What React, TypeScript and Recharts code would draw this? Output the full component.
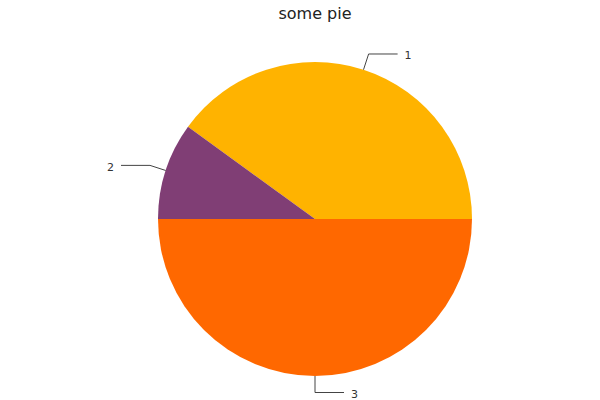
import React from 'react';
import { PieChart, Pie, Cell } from 'recharts';

const categories = ['1', '2', '3'];
const values = [40, 10, 50];
const colors = ['#FFB300', '#803E75', '#FF6800'];
const title = 'some pie';

const data = categories.map((name, i) => ({ name, value: values[i] }));

const FONT = '"DejaVu Sans", Verdana, sans-serif';

const renderLabel = (props: any) => {
  const { cx, cy, midAngle, outerRadius, name } = props;
  const RAD = Math.PI / 180;
  const cos = Math.cos(-midAngle * RAD);
  const sin = Math.sin(-midAngle * RAD);
  const sx = cx + outerRadius * cos;
  const sy = cy + outerRadius * sin;
  const mx = cx + (outerRadius + 16.5) * cos;
  const my = cy + (outerRadius + 16.5) * sin;
  const dir = cos >= -1e-6 ? 1 : -1;
  const ex = mx + dir * 29;
  const ey = my;
  return (
    <g>
      <path d={`M${sx},${sy}L${mx},${my}L${ex},${ey}`} stroke="#444" strokeWidth={1} fill="none" />
      <text
        x={ex + dir * 7}
        y={ey + 2}
        textAnchor={dir > 0 ? 'start' : 'end'}
        dominantBaseline="central"
        fill="#333"
        fontSize={11}
        fontFamily={FONT}
      >
        {name}
      </text>
    </g>
  );
};

export default function App() {
  return (
    <div style={{ position: 'absolute', left: 0, top: 0, width: 600, height: 400, background: '#fff' }}>
      <div
        style={{
          position: 'absolute',
          left: 15,
          top: 0,
          width: 600,
          textAlign: 'center',
          fontFamily: FONT,
          fontSize: 16,
          color: '#222',
          lineHeight: '16px',
          paddingTop: 6,
        }}
      >
        {title}
      </div>
      <PieChart width={600} height={400} margin={{ top: 0, right: 0, bottom: 0, left: 0 }}>
        <Pie
          data={data}
          dataKey="value"
          nameKey="name"
          cx={315}
          cy={219}
          outerRadius={157}
          startAngle={0}
          endAngle={360}
          stroke="none"
          label={renderLabel}
          labelLine={false}
          isAnimationActive={false}
        >
          {data.map((d, i) => (
            <Cell key={d.name} fill={colors[i]} />
          ))}
        </Pie>
      </PieChart>
    </div>
  );
}
